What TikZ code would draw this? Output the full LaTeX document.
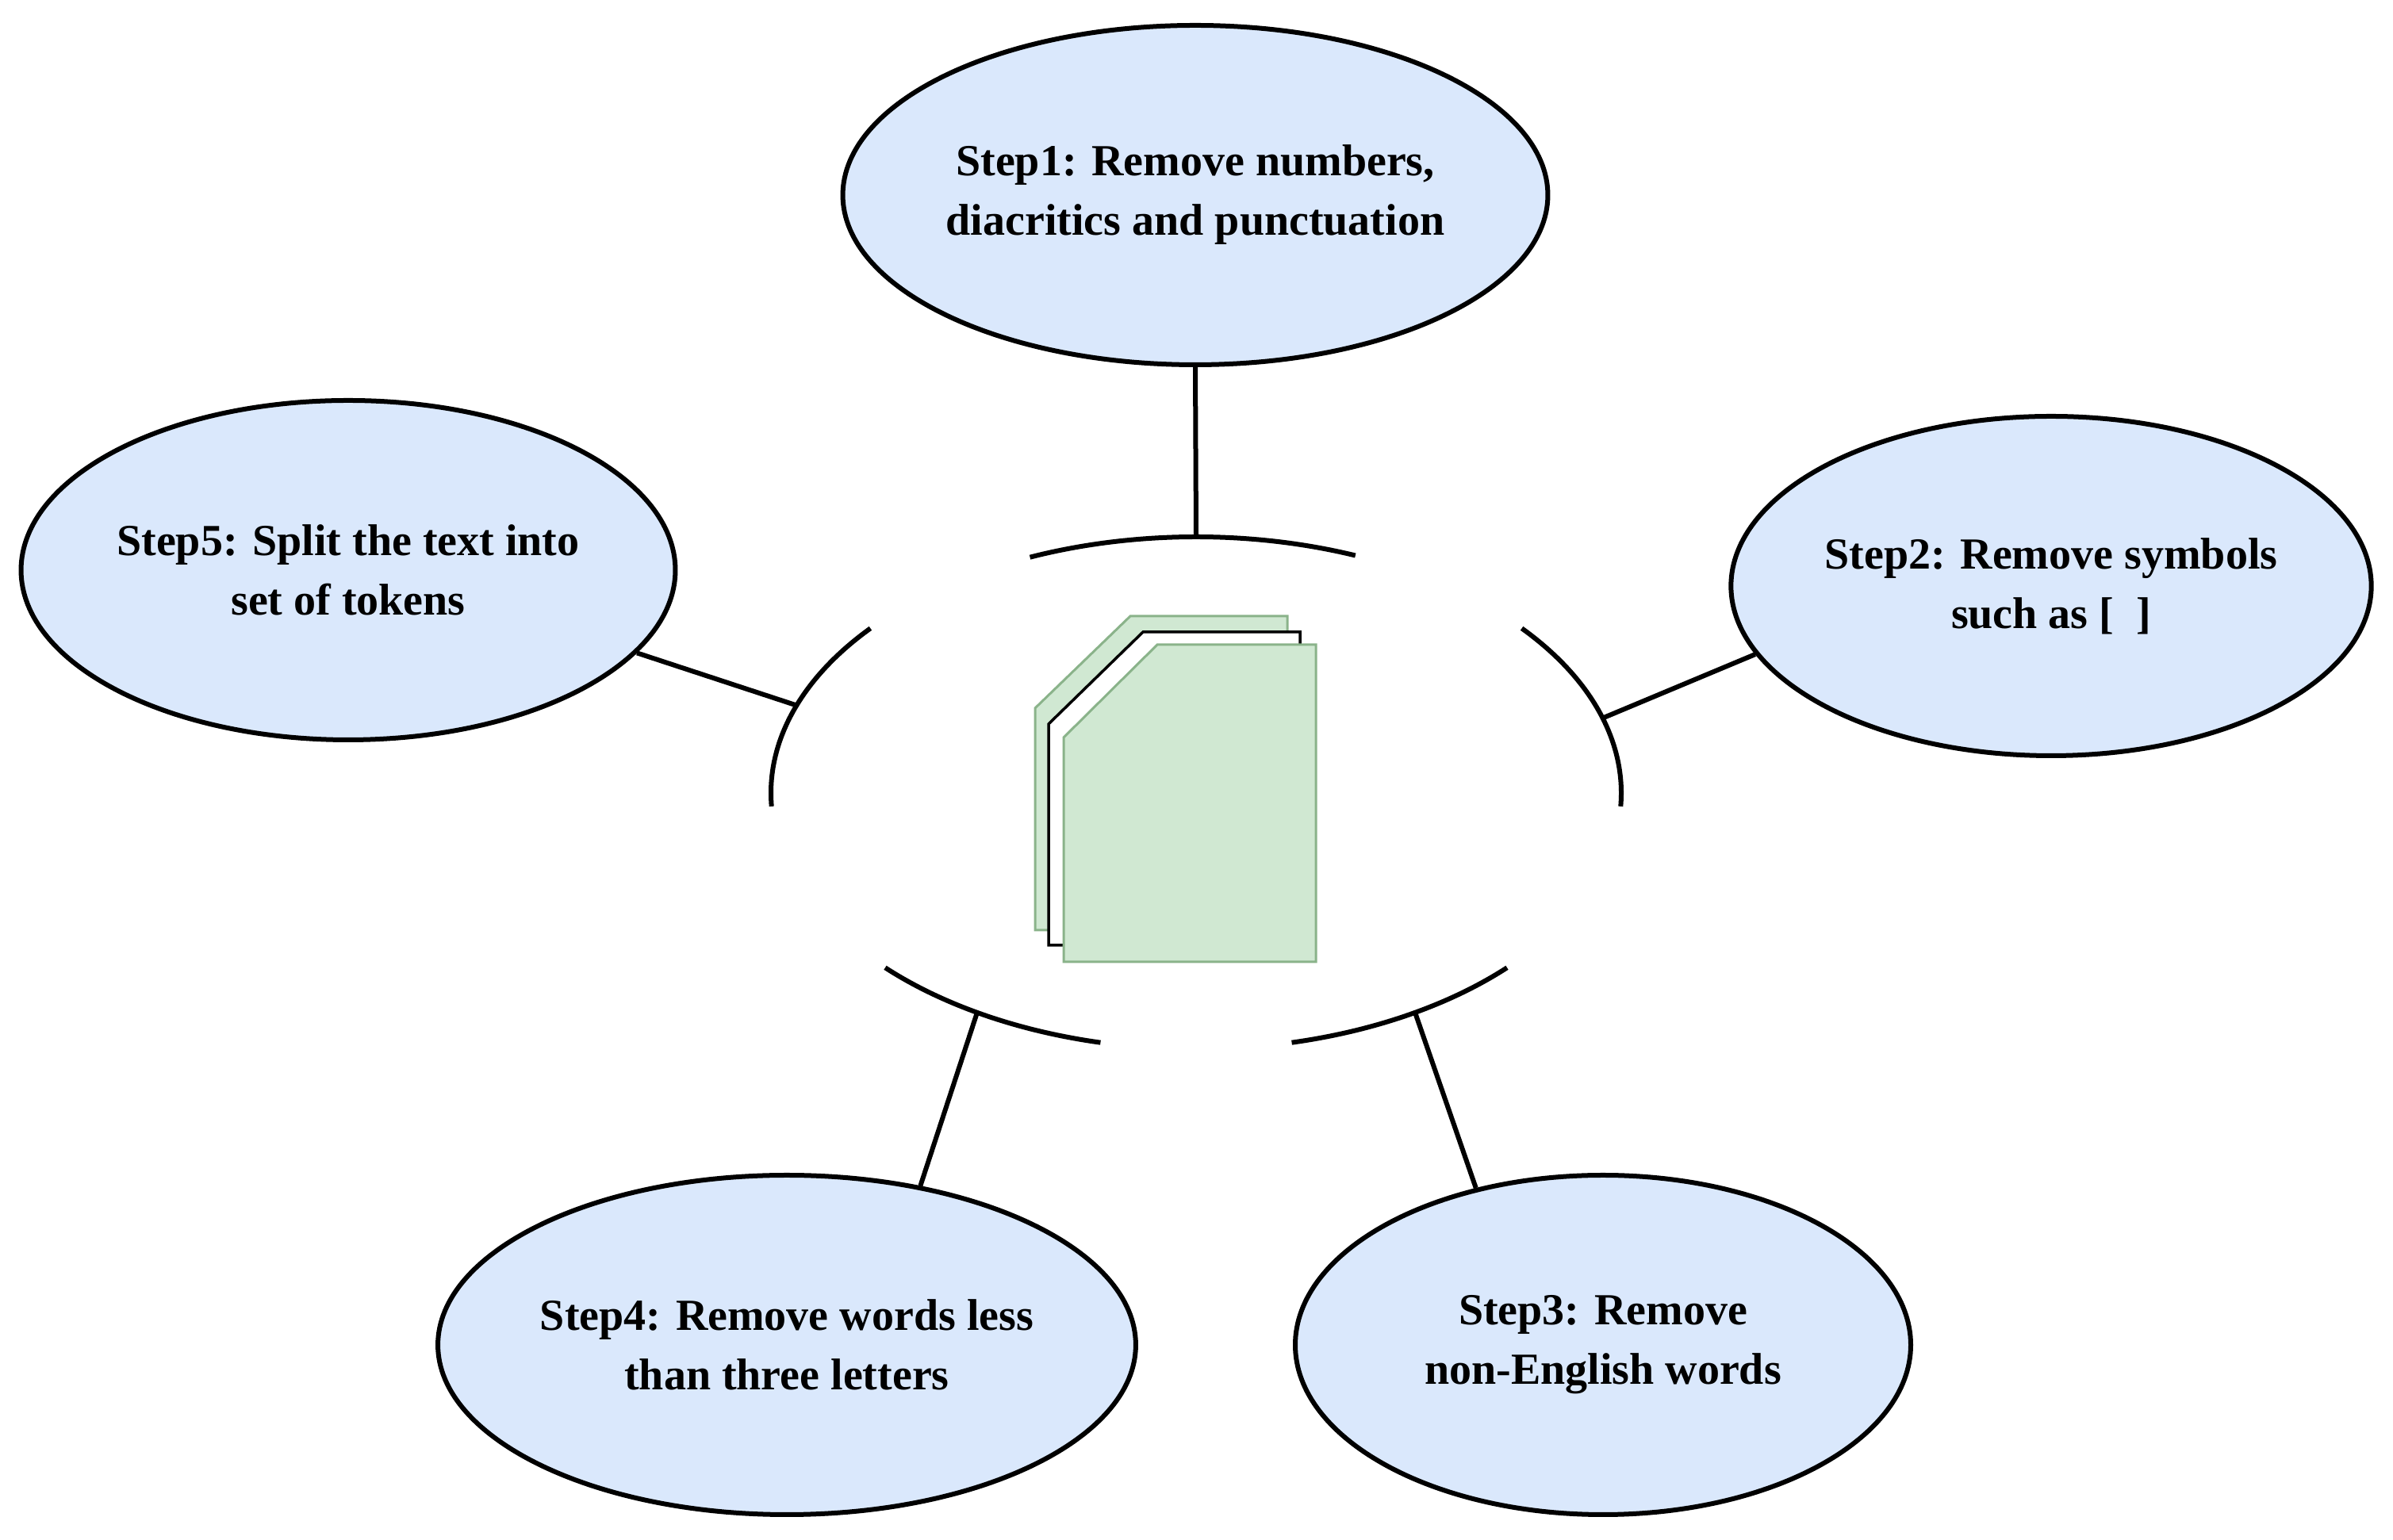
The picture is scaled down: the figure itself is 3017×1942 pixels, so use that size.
\documentclass[tikz,border=0pt]{standalone}
\usepackage{fontspec}
\setmainfont{Liberation Serif}
\usetikzlibrary{shapes.geometric,calc}
\definecolor{stepfill}{HTML}{DAE8FC}
\definecolor{docfill}{HTML}{D0E8D2}
\definecolor{docline}{HTML}{8AB38A}
\tikzset{
  stepnode/.style={ellipse,draw=black,line width=6pt,fill=stepfill,minimum width=776pt,minimum height=428pt,inner sep=0pt,align=center,font=\fontsize{56}{75}\selectfont\bfseries},
  link/.style={line width=6pt},
  page/.style={draw=docline,fill=docfill,line width=3pt},
}
\begin{document}
\begin{tikzpicture}[x=1pt,y=1pt]
\useasboundingbox (0,0) rectangle (3017,1942);
\node[stepnode] (s1) at (1507,1696) {Step1: Remove numbers,\\diacritics and punctuation};
\node[stepnode] (s2) at (2586,1203) {Step2: Remove symbols\\such as [\ \ ]};
\node[stepnode] (s3) at (2021,246) {Step3: Remove\\non-English words};
\node[stepnode] (s4) at (992,246) {Step4: Remove words less\\than three letters};
\node[stepnode] (s5) at (439,1223) {Step5: Split the text into\\set of tokens};
\coordinate (c) at (1508,942);
% arcs of the ring
\foreach \a/\b in {68/113, -3/40, 140/183, 223/257, 283/317}
  \draw[link] ($(c)+(\a:536 and 323)$) arc[start angle=\a, end angle=\b, x radius=536, y radius=323];
\coordinate (p1) at ($(c)+(90:536 and 323)$);
\coordinate (p2) at ($(c)+(17:536 and 323)$);
\coordinate (p3) at ($(c)+(301:536 and 323)$);
\coordinate (p4) at ($(c)+(239:536 and 323)$);
\coordinate (p5) at ($(c)+(160:536 and 323)$);
\draw[link] (p1) -- (s1.south);
\draw[link] (p2) -- (s2.193);
\draw[link] (p3) -- (s3.129);
\draw[link] (p4) -- (s4.50);
\draw[link] (p5) -- (s5.-16);
% document icon
\draw[page] (1305,769) -- (1305,1049) -- (1425,1165) -- (1623,1165) -- (1623,769) -- cycle;
\draw[line width=3.5pt,fill=white] (1322,750) -- (1322,1029) -- (1441,1145) -- (1639,1145) -- (1639,750) -- cycle;
\draw[page] (1341,729) -- (1341,1012) -- (1459,1129) -- (1659,1129) -- (1659,729) -- cycle;
\end{tikzpicture}
\end{document}
